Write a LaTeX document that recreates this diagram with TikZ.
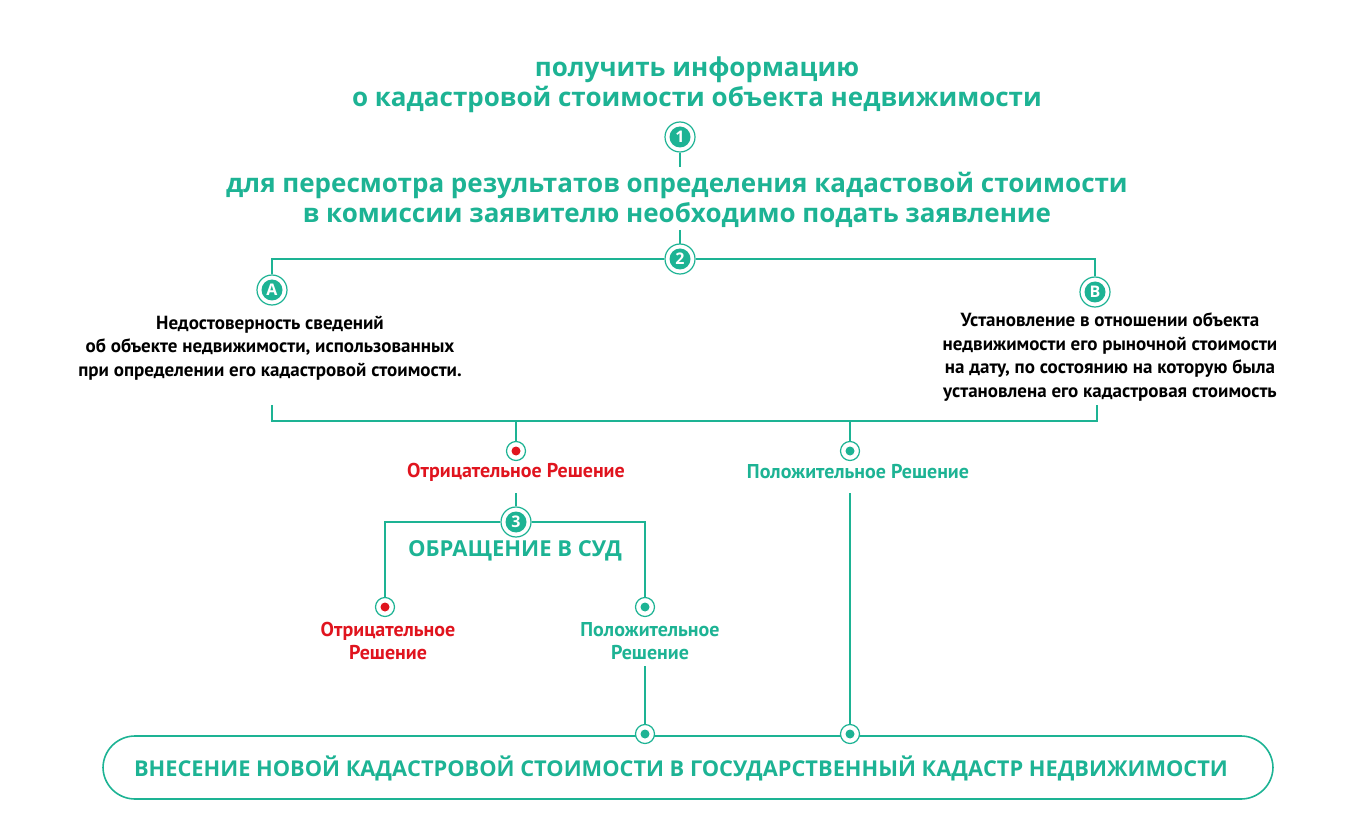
\documentclass[tikz,border=0pt]{standalone}
\usepackage{fontspec}
\setmainfont{Open Sans}
\newfontfamily\cond{PT Sans}
\definecolor{teal1}{HTML}{1DB394}
\definecolor{red1}{HTML}{E0141E}
\begin{document}
\begin{tikzpicture}[x=1pt,y=-1pt,
  ln/.style={draw=teal1,line width=1.6pt},
  big/.style={circle,draw=teal1,fill=white,line width=1.2pt,minimum size=30pt,inner sep=0pt},
  num/.style={circle,fill=teal1,text=white,minimum size=21pt,inner sep=0pt,font=\bfseries\fontsize{16}{16}\selectfont},
  dot/.style={circle,draw=teal1,fill=white,line width=1.2pt,minimum size=19pt,inner sep=0pt},
  ttl/.style={text=teal1,font=\bfseries\fontsize{26}{30}\selectfont,align=center},
  blk/.style={font=\cond\bfseries\fontsize{19}{23.5}\selectfont,align=center},
  tdec/.style={text=teal1,font=\cond\bfseries\fontsize{20}{23}\selectfont,align=center},
  rdec/.style={text=red1,font=\cond\bfseries\fontsize{20}{23}\selectfont,align=center}]
\useasboundingbox (0,0) rectangle (1345,834);
\node[ttl] (t1) at (697,85) {получить  информацию\\о кадастровой стоимости объекта недвижимости};
\node[big] (c1) at (680,137) {}; \node[num] at (c1) {1};
\node[ttl] (t2) at (677,200) {для пересмотра результатов определения кадастовой стоимости\\в комиссии заявителю необходимо подать заявление};
\draw[ln] (c1.south) -- (680,167);
\draw[ln] (680,230) -- (680,245);
\node[big] (c2) at (680,259) {}; \node[num] at (c2) {2};
\node[big] (cA) at (272,290) {}; \node[num] at (cA) {A};
\node[big] (cB) at (1095,292) {}; \node[num] at (cB) {B};
\draw[ln] (cA.north) |- (c2.west);
\draw[ln] (cB.north) |- (c2.east);
\node[blk] (ta) at (270,348) {Недостоверность  сведений\\об объекте недвижимости, использованных\\при определении его кадастровой стоимости.};
\node[blk] (tb) at (1110,357) {Установление в отношении объекта\\недвижимости его рыночной стоимости\\на дату, по состоянию на которую была\\установлена его кадастровая стоимость};
\coordinate (bl) at (272,405); \coordinate (br) at (1097,405);
\draw[ln] (bl) -- (272,421) -- (1097,421) -- (br);
\node[dot] (dn) at (516,451) {}; \fill[red1] (dn) circle (4.5pt);
\node[dot] (dp) at (850,451) {}; \fill[teal1] (dp) circle (4.5pt);
\draw[ln] (516,421) -- (dn.north);
\draw[ln] (850,421) -- (dp.north);
\node[rdec] (rn) at (516,472) {Отрицательное Решение};
\node[tdec] (rp) at (858,472) {Положительное Решение};
\node[big] (c3) at (516,522) {}; \node[num] at (c3) {3};
\draw[ln] (516,493) -- (c3.north);
\node[text=teal1,font=\bfseries\fontsize{22}{24}\selectfont] (sud) at (515,551) {ОБРАЩЕНИЕ В СУД};
\node[dot] (d2n) at (385,607) {}; \fill[red1] (d2n) circle (4.5pt);
\node[dot] (d2p) at (645,607) {}; \fill[teal1] (d2p) circle (4.5pt);
\draw[ln] (c3.west) -| (d2n.north);
\draw[ln] (c3.east) -| (d2p.north);
\node[rdec] (r2n) at (388,641) {Отрицательное\\Решение};
\node[tdec] (r2p) at (650,641) {Положительное\\Решение};
\draw[ln,rounded corners=32pt] (103,736) rectangle (1273,799);
\node[text=teal1,font=\bfseries\fontsize{21.8}{24}\selectfont] (fin) at (681,768) {ВНЕСЕНИЕ НОВОЙ КАДАСТРОВОЙ СТОИМОСТИ В ГОСУДАРСТВЕННЫЙ КАДАСТР НЕДВИЖИМОСТИ};
\node[dot] (e1) at (645,734) {}; \fill[teal1] (e1) circle (4.5pt);
\node[dot] (e2) at (850,734) {}; \fill[teal1] (e2) circle (4.5pt);
\draw[ln] (645,666) -- (e1.north);
\draw[ln] (850,493) -- (e2.north);
\end{tikzpicture}
\end{document}
